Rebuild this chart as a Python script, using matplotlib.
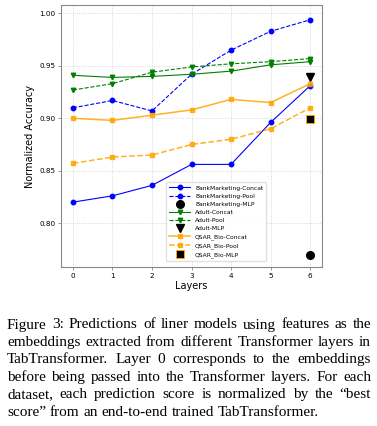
import matplotlib
matplotlib.use('Agg')
import matplotlib.pyplot as plt

layers = [0, 1, 2, 3, 4, 5, 6]

bank_concat = [0.820, 0.826, 0.836, 0.856, 0.856, 0.896, 0.931]
bank_pool = [0.910, 0.917, 0.907, 0.942, 0.965, 0.983, 0.994]
bank_mlp = 0.770

adult_concat = [0.941, 0.939, 0.940, 0.942, 0.945, 0.951, 0.954]
adult_pool = [0.927, 0.933, 0.944, 0.949, 0.952, 0.954, 0.957]
adult_mlp = 0.939

qsar_concat = [0.900, 0.898, 0.903, 0.908, 0.918, 0.915, 0.933]
qsar_pool = [0.857, 0.863, 0.865, 0.875, 0.880, 0.890, 0.910]
qsar_mlp = 0.899

caption_lines = [
    "Figure 3: Predictions of liner models using features as the",
    "embeddings extracted from different Transformer layers in",
    "TabTransformer. Layer 0 corresponds to the embeddings",
    "before being passed into the Transformer layers. For each",
    "dataset, each prediction score is normalized by the \u201cbest",
    "score\u201d from an end-to-end trained TabTransformer.",
]

fig = plt.figure(figsize=(3.77, 4.26), dpi=100)
ax = fig.add_axes([0.162, 0.373, 0.692, 0.615])

ms = 3.2
ax.plot(layers, bank_concat, color='blue', marker='o', ms=ms, lw=0.8, label='BankMarketing-Concat')
ax.plot(layers, bank_pool, color='blue', marker='o', ms=ms, lw=0.8, ls='--', label='BankMarketing-Pool')
ax.plot([6], [bank_mlp], color='black', marker='o', ms=5.5, ls='none', label='BankMarketing-MLP')
ax.plot(layers, adult_concat, color='green', marker='v', ms=ms, lw=0.8, label='Adult-Concat')
ax.plot(layers, adult_pool, color='green', marker='v', ms=ms, lw=0.8, ls='--', label='Adult-Pool')
ax.plot([6], [adult_mlp], color='black', marker='v', ms=5.5, ls='none', label='Adult-MLP')
ax.plot(layers, qsar_concat, color='orange', marker='s', ms=ms, lw=1.1, alpha=0.85, label='QSAR_Bio-Concat')
ax.plot(layers, qsar_pool, color='orange', marker='s', ms=ms, lw=1.1, ls='--', alpha=0.85, label='QSAR_Bio-Pool')
ax.plot([6], [qsar_mlp], color='black', marker='s', ms=5.8, mec='orange', mew=0.7, ls='none', label='QSAR_Bio-MLP')

ax.set_xlim(-0.3, 6.3)
ax.set_ylim(0.758, 1.008)
ax.set_yticks([0.80, 0.85, 0.90, 0.95, 1.00])
ax.set_xticks(layers)
ax.grid(True, ls=':', lw=0.6, color='#cccccc')
for s in ax.spines.values():
    s.set_color('#888888')
    s.set_linewidth(0.8)
ax.tick_params(labelsize=5.2, length=2, width=0.6, color='#888888', pad=2)
ax.set_xlabel('Layers', fontsize=7, labelpad=2)
ax.set_ylabel('Normalized Accuracy', fontsize=7, labelpad=3)

ax.legend(loc='lower left', bbox_to_anchor=(0.39, 0.012), fontsize=4.3, labelspacing=0.5,
          handlelength=3.6, borderpad=0.5, framealpha=0.9, edgecolor='#dddddd')

# caption, justified like the paper text
fig.canvas.draw()
renderer = fig.canvas.get_renderer()
left, right = 7 / 377, 371 / 377
y0, dy = 1 - 325 / 426, 17.4 / 426
for i, line in enumerate(caption_lines):
    y = y0 - i * dy
    words = line.split(' ')
    texts = [fig.text(0, y, w, fontsize=11, family='Liberation Serif', va='center') for w in words]
    widths = [t.get_window_extent(renderer).width / fig.bbox.width for t in texts]
    if i < len(caption_lines) - 1:
        gap = (right - left - sum(widths)) / (len(words) - 1)
    else:
        gap = 3.8 / 377
    x = left
    for t, w in zip(texts, widths):
        t.set_x(x)
        x += w + gap

plt.savefig('out.png', dpi=100)
